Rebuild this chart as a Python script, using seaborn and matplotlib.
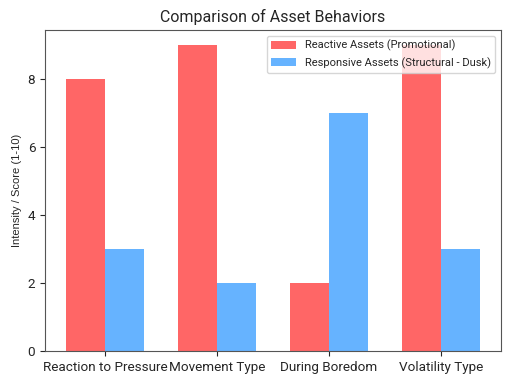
import pandas as pd
import matplotlib.pyplot as plt
import seaborn as sns

categories = ["Reaction to Pressure", "Movement Type", "During Boredom", "Volatility Type"]
reactive = [8, 9, 2, 9]
responsive = [3, 2, 7, 3]
series_names = ["Reactive Assets (Promotional)", "Responsive Assets (Structural - Dusk)"]

df = pd.DataFrame({
    "category": categories * 2,
    "score": reactive + responsive,
    "series": [series_names[0]] * 4 + [series_names[1]] * 4,
})

sns.set_style("ticks")
plt.rcParams["font.family"] = ["Roboto", "DejaVu Sans"]

fig, ax = plt.subplots(figsize=(5.12, 3.84), dpi=100)
sns.barplot(
    data=df, x="category", y="score", hue="series",
    palette=["#FF6666", "#66B3FF"], width=0.7, saturation=1,
    linewidth=0, ax=ax,
)
ax.set_xlim(-0.535, 3.535)
ax.set_ylim(0, 9.45)
ax.set_yticks([0, 2, 4, 6, 8])
ax.set_title("Comparison of Asset Behaviors", fontsize=11.5)
ax.set_xlabel("")
ax.set_ylabel("Intensity / Score (1-10)", fontsize=8, family=["Liberation Sans", "DejaVu Sans"])
ax.tick_params(labelsize=9.7)
ax.legend(loc="upper right", fontsize=8, title=None, framealpha=0.8,
          handlelength=2.2)
for s in ax.spines.values():
    s.set_visible(True)
    s.set_color("#555555")

fig.subplots_adjust(left=0.088, right=0.978, top=0.922, bottom=0.086)
fig.savefig("out.png", dpi=100)
